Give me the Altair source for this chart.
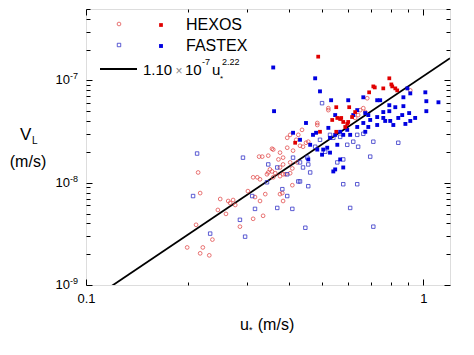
import altair as alt
import pandas as pd

# ---------------- data ----------------
hexos_open_u = [0.215, 0.218, 0.212, 0.1995, 0.218, 0.222, 0.232, 0.237, 0.250, 0.246,
                0.260, 0.264, 0.273, 0.277, 0.302, 0.313, 0.286, 0.328, 0.335, 0.322,
                0.333, 0.347, 0.356, 0.372, 0.395, 0.384, 0.409, 0.382, 0.347, 0.356,
                0.364, 0.376, 0.384, 0.326, 0.437, 0.485, 0.523, 0.403, 0.420, 0.431,
                0.449, 0.411, 0.359, 0.376, 0.395, 0.440, 0.456, 0.384, 0.403, 0.423,
                0.376, 0.351, 0.344, 0.359, 0.328, 0.409, 0.682, 0.664, 0.650, 0.641,
                0.628, 0.673, 0.915, 0.523, 0.485, 0.426, 0.2675, 0.340, 0.317, 0.390,
                0.403, 0.384, 0.376, 0.313]
hexos_open_v = [1.26e-8, 7.92e-9, 3.88e-9, 2.33e-9, 2.04e-9, 2.33e-9, 1.95e-9, 2.78e-9, 6.93e-9, 5.42e-9,
                4.96e-9, 6.63e-9, 6.78e-9, 6.06e-9, 8.28e-9, 4.44e-9, 3.72e-9, 6.63e-9, 4.75e-9, 1.13e-8,
                1.80e-8, 1.84e-8, 2.15e-8, 1.69e-8, 2.20e-8, 6.63e-9, 9.46e-9, 7.92e-9, 1.26e-8, 1.29e-8,
                1.24e-8, 1.16e-8, 1.21e-8, 1.80e-8, 3.29e-8, 3.84e-8, 5.36e-8, 2.94e-8, 2.63e-8, 2.30e-8,
                2.46e-8, 2.06e-8, 2.11e-8, 1.97e-8, 2.75e-8, 2.25e-8, 2.52e-8, 1.76e-8, 1.58e-8, 1.58e-8,
                1.41e-8, 1.35e-8, 1.21e-8, 1.13e-8, 1.08e-8, 1.38e-8, 6.70e-8, 5.36e-8, 5.13e-8, 4.59e-8,
                4.30e-8, 4.91e-8, 8.0e-8, 5.13e-8, 3.67e-8, 2.94e-8, 6.34e-9, 7.74e-9, 7.24e-9, 1.21e-8,
                1.24e-8, 1.51e-8, 7.74e-9, 1.13e-8]

hexos_filled_u = [0.488, 0.711, 0.718, 0.761, 0.793, 0.804, 0.809, 0.826, 0.837, 0.691,
                  0.552, 0.537, 0.556, 0.567, 0.579, 0.595, 0.599, 0.587, 0.494, 0.417,
                  0.603, 0.571, 0.615, 0.628, 0.552]
hexos_filled_v = [1.71e-7, 8.75e-8, 8.55e-8, 8.37e-8, 1.05e-7, 9.15e-8, 8.75e-8, 8.37e-8, 8.0e-8, 7.66e-8,
                  5.48e-8, 4.11e-8, 4.30e-8, 4.20e-8, 3.93e-8, 3.76e-8, 3.93e-8, 3.51e-8, 3.15e-8, 2.46e-8,
                  5.48e-8, 4.30e-8, 4.39e-8, 4.91e-8, 3.15e-8]

fastex_open_u = [0.2135, 0.292, 0.2077, 0.317, 0.286, 0.2334, 0.2963, 0.369, 0.409, 0.344,
                 0.311, 0.395, 0.382, 0.411, 0.395, 0.369, 0.347, 0.579, 0.637, 0.607,
                 0.711, 0.447, 0.456, 0.431, 0.462, 0.440, 0.431, 0.456, 0.453, 0.478,
                 0.494, 0.529, 0.541, 0.567, 0.556, 0.512, 0.595, 0.620, 0.637, 0.664,
                 0.711, 0.696, 0.843, 0.501, 0.426, 0.641, 0.579]
fastex_open_v = [1.93e-8, 1.76e-8, 7.41e-9, 5.55e-9, 4.34e-9, 3.18e-9, 2.97e-9, 5.67e-9, 5.55e-9, 1.01e-8,
                 7.41e-9, 7.41e-9, 8.65e-9, 1.76e-8, 1.21e-8, 1.41e-8, 1.51e-8, 9.67e-9, 9.67e-9, 5.67e-9,
                 3.72e-9, 3.63e-9, 9.25e-9, 1.03e-8, 1.26e-8, 1.41e-8, 1.58e-8, 1.51e-8, 1.76e-8, 2.25e-8,
                 2.63e-8, 2.94e-8, 2.75e-8, 2.81e-8, 1.58e-8, 2.01e-8, 2.35e-8, 2.52e-8, 2.94e-8, 3.01e-8,
                 2.52e-8, 1.80e-8, 2.46e-8, 6.0e-8, 1.03e-8, 2.25e-8, 1.69e-8]

fastex_filled_u = [0.359, 0.478, 0.494, 0.533, 0.599, 0.361, 0.449, 0.411, 0.471, 0.481,
                   0.523, 0.548, 0.620, 0.637, 0.664, 0.673, 0.687, 0.730, 0.745, 0.793,
                   0.873, 0.897, 0.915, 1.014, 1.021, 1.109, 1.021, 0.873, 0.826, 0.793,
                   0.761, 0.761, 0.771, 0.798, 0.815, 0.843, 0.866, 0.885, 0.915, 0.946,
                   0.908, 0.696, 0.730, 0.664, 0.637, 0.595, 0.567, 0.548, 0.529, 0.579,
                   0.673, 0.687, 0.730, 0.607, 0.529, 0.556, 0.567, 0.541, 0.501, 0.485,
                   0.519, 0.431, 0.462, 0.579, 0.456, 0.505, 0.548]
fastex_filled_v = [1.34e-7, 1.05e-7, 7.83e-8, 6.41e-8, 6.41e-8, 5.01e-8, 3.84e-8, 3.08e-8, 2.94e-8, 3.08e-8,
                   3.44e-8, 4.59e-8, 4.59e-8, 5.13e-8, 6.85e-8, 4.80e-8, 4.59e-8, 6.41e-8, 6.41e-8, 5.73e-8,
                   6.85e-8, 8.37e-8, 7.48e-8, 7.66e-8, 6.27e-8, 6.12e-8, 5.01e-8, 5.61e-8, 5.48e-8, 5.01e-8,
                   4.91e-8, 4.30e-8, 4.02e-8, 4.02e-8, 3.67e-8, 4.30e-8, 4.59e-8, 3.76e-8, 4.02e-8, 4.30e-8,
                   4.80e-8, 4.11e-8, 4.39e-8, 3.84e-8, 3.51e-8, 3.29e-8, 3.15e-8, 2.94e-8, 2.75e-8, 2.94e-8,
                   3.15e-8, 3.51e-8, 3.67e-8, 2.94e-8, 1.97e-8, 2.35e-8, 1.69e-8, 1.29e-8, 1.88e-8, 2.11e-8,
                   2.20e-8, 2.63e-8, 2.35e-8, 1.41e-8, 1.69e-8, 2.11e-8, 1.35e-8]

fit_a = 1.10e-7
fit_b = 2.22

x_domain = [0.1, 1.2]
y_domain = [1e-9, 5e-7]
x_tick_values = [0.1, 0.2, 0.3, 0.4, 0.5, 0.6, 0.7, 0.8, 0.9, 1.0]
x_label_values = [0.1, 1.0]
y_decades = [1e-9, 1e-8, 1e-7]
y_decade_sup = ["-9", "-8", "-7"]
y_tick_values = [k * d for d in y_decades for k in range(1, 10) if k * d <= 5.0001e-7]

# ---------------- styling ----------------
FONT = "Liberation Sans"
RED_OPEN = "#e25050"
RED = "#e00000"
BLUE_OPEN = "#3535c8"
BLUE = "#0000e0"
W, H = 364, 276

xs = alt.Scale(type="log", domain=x_domain, nice=False)
ys = alt.Scale(type="log", domain=y_domain, nice=False)

major_test = "abs(log(datum.value)/LN10 - round(log(datum.value)/LN10)) < 0.001"


def tick_axis(orient, offset, values, major, minor):
    return alt.Axis(orient=orient, offset=offset, values=values, labels=False,
                    domain=False, grid=False, title=None, tickColor="black",
                    tickWidth=1,
                    tickSize={"condition": {"test": major_test, "value": major}, "value": minor})


ax_x_main = alt.Axis(orient="bottom", values=x_label_values, ticks=False, tickSize=0,
                     domain=False, grid=False, title=None, labelFlush=False,
                     labelExpr="datum.value < 0.5 ? '0.1' : '1'",
                     labelFont=FONT, labelFontSize=13, labelColor="black", labelPadding=7)
ax_x_in_bottom = tick_axis("top", -H, x_tick_values, 6, 3)
ax_x_in_top = tick_axis("bottom", -H, x_tick_values, 6, 3)
ax_y_in_left = tick_axis("right", -W, y_tick_values, 6, 4)
ax_y_in_right = tick_axis("left", -W, y_tick_values, 6, 4)


def scatter(u, v, shape, color, filled, size, sw, xaxis=None, yaxis=None):
    df = pd.DataFrame({"u": u, "v": v})
    return alt.Chart(df).mark_point(shape=shape, filled=filled, color=color, size=size,
                                    strokeWidth=sw, opacity=1).encode(
        x=alt.X("u:Q", scale=xs, axis=xaxis),
        y=alt.Y("v:Q", scale=ys, axis=yaxis))


line_df = pd.DataFrame({"u": x_domain})
line_df["v"] = fit_a * line_df["u"] ** fit_b
fit_line = alt.Chart(line_df).mark_line(color="black", strokeWidth=1.8, clip=True).encode(
    x=alt.X("u:Q", scale=xs, axis=ax_x_main),
    y=alt.Y("v:Q", scale=ys, axis=None))

p_hexos_open = scatter(hexos_open_u, hexos_open_v, "circle", RED_OPEN, False, 14, 0.8,
                       ax_x_in_bottom, ax_y_in_left)
p_fastex_open = scatter(fastex_open_u, fastex_open_v, "square", BLUE_OPEN, False, 12, 0.8,
                        ax_x_in_top, ax_y_in_right)
p_fastex_filled = scatter(fastex_filled_u, fastex_filled_v, "square", BLUE, True, 15, 0)
p_hexos_filled = scatter(hexos_filled_u, hexos_filled_v, "square", RED, True, 14, 0)

# y tick labels (10 with superscript exponent)
ylab_df = pd.DataFrame({"v": y_decades, "sup": y_decade_sup})
ylab_base = alt.Chart(ylab_df).mark_text(text="10", align="right", baseline="middle",
                                         font=FONT, fontSize=13, color="black").encode(
    x=alt.value(-16), y=alt.Y("v:Q", scale=ys, axis=None))
ylab_sup = alt.Chart(ylab_df).mark_text(align="left", baseline="middle", dy=-4,
                                        font=FONT, fontSize=9, color="black").encode(
    x=alt.value(-16), y=alt.Y("v:Q", scale=ys, axis=None), text="sup:N")

one = pd.DataFrame({"k": [0]})


def txt(s, x, y, size, align="left", baseline="alphabetic", color="black"):
    return alt.Chart(one).mark_text(text=s, align=align, baseline=baseline, font=FONT,
                                    fontSize=size, color=color).encode(
        x=alt.value(x), y=alt.value(y))


def sym(x, y, shape, color, filled, size, sw):
    return alt.Chart(one).mark_point(shape=shape, filled=filled, color=color, size=size,
                                     strokeWidth=sw, opacity=1).encode(
        x=alt.value(x), y=alt.value(y))


legend = [
    sym(33, 15, "circle", RED_OPEN, False, 14, 0.8),
    sym(75, 16, "square", RED, True, 14, 0),
    txt("HEXOS", 100, 16, 16, baseline="middle"),
    sym(33, 36, "square", BLUE_OPEN, False, 12, 0.8),
    sym(75, 37, "square", BLUE, True, 15, 0),
    txt("FASTEX", 100, 37, 16, baseline="middle"),
    alt.Chart(one).mark_rule(color="black", strokeWidth=1.8).encode(
        x=alt.value(14), x2=alt.value(51), y=alt.value(60)),
    txt("1.10", 57, 66, 15),
    txt("\u00d7", 93, 62, 12, align="center", baseline="middle", color="#888888"),
    txt("10", 99, 66, 15),
    txt("-7", 116, 56, 9),
    txt("u", 126, 66, 15),
    txt("*", 134, 72, 8),
    txt("2.22", 136, 56, 9),
]

titles = [
    txt("V", -66, 131, 17),
    txt("L", -54, 135, 10),
    txt("(m/s)", -58, 153, 16, align="center", baseline="middle"),
    txt("u", 154, H + 45, 16),
    txt("*", 163, H + 48, 9),
    txt("(m/s)", 190, H + 40, 16, align="center", baseline="middle"),
]

chart = alt.layer(
    fit_line, p_hexos_open, p_fastex_open, p_fastex_filled, p_hexos_filled,
    ylab_base, ylab_sup, *legend, *titles
).resolve_axis(x="independent", y="independent").properties(
    width=W, height=H,
    autosize=alt.AutoSizeParams(type="none"),
    padding={"left": 78, "top": 1, "right": 16, "bottom": 55},
).configure_view(stroke="black", strokeWidth=1.6).configure(font=FONT, background="white")

chart.save("out.html", embed_options={"renderer": "svg", "actions": False})
